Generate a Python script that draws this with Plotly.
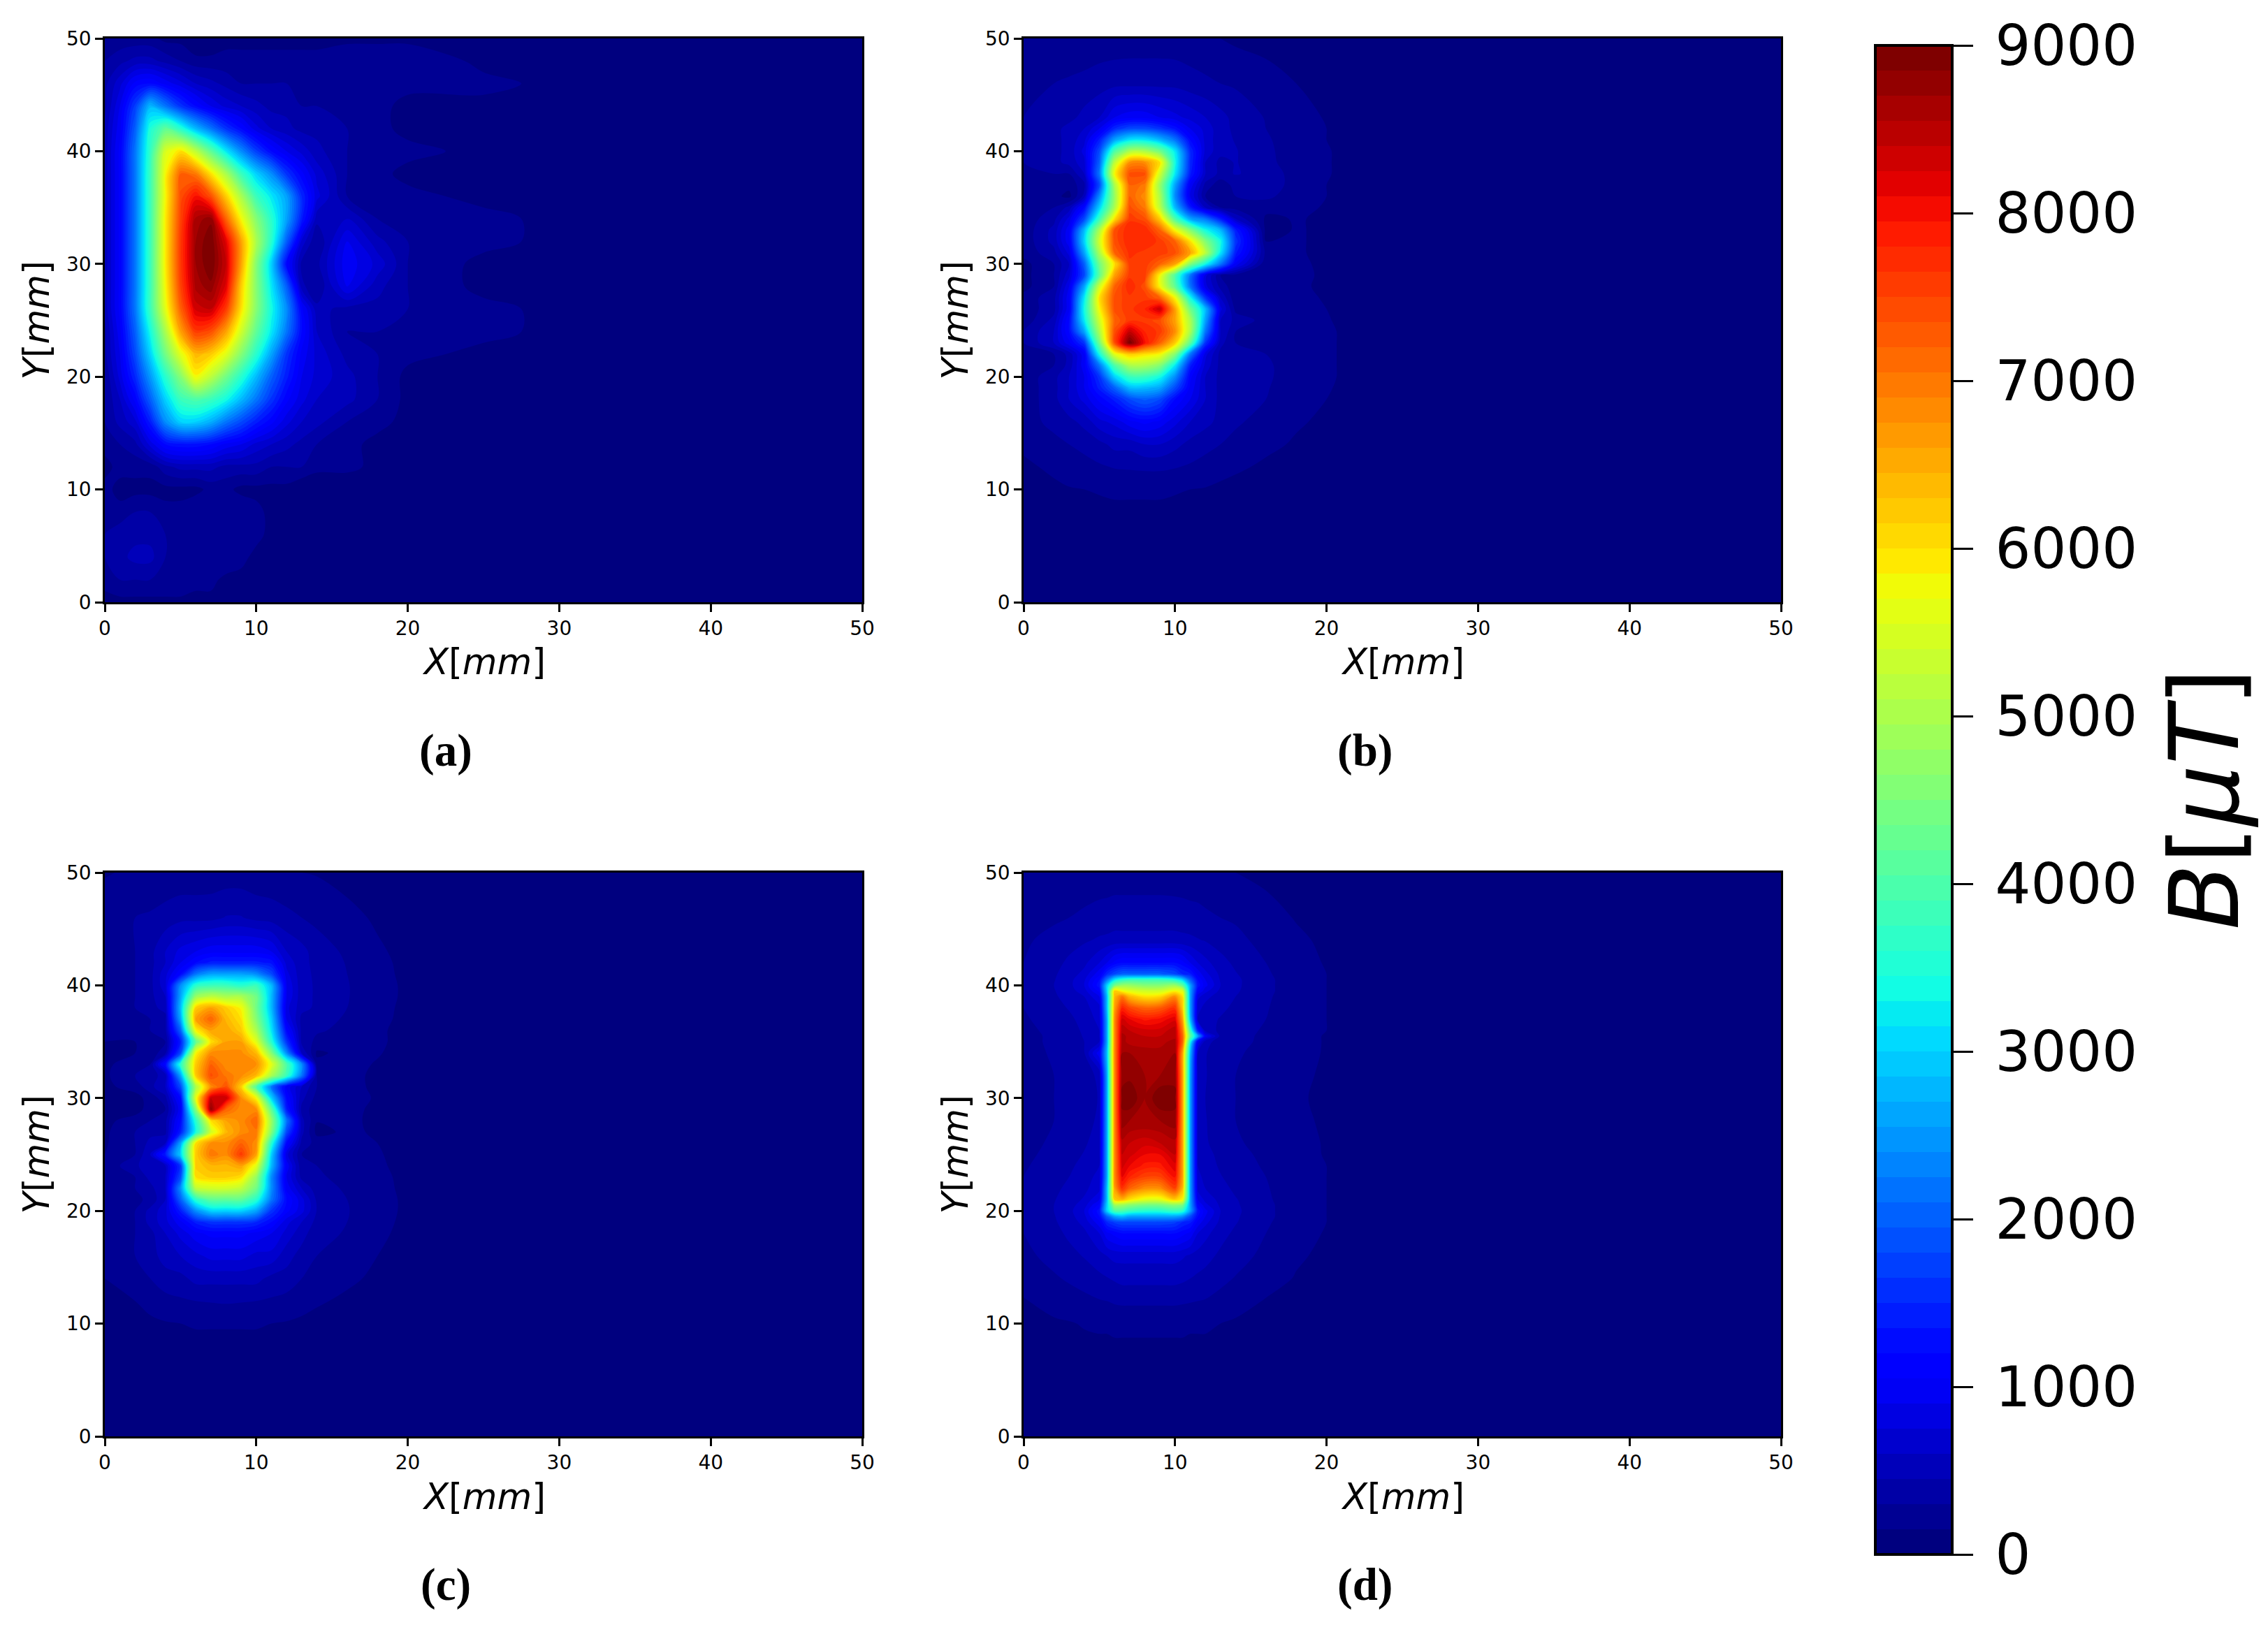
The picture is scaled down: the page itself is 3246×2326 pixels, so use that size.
import numpy as np
import plotly.graph_objects as go

X_A = [0, 1, 2, 3, 4, 5, 6, 7, 8, 9, 10, 11, 12, 13, 14, 16, 18, 20, 25, 30, 50]
Y_A = [50, 48, 46, 44, 42, 40, 38, 36, 34, 32, 30, 28, 26, 24, 22, 20, 18, 16, 14, 12, 10, 8, 6, 4, 2, 0]
Z_A = [
    [2, 2, 2, 2, 1, 1, 0, 0, 1, 1, 1, 1, 1, 1, 1, 1, 1, 1, 1, 1, 0],
    [3, 4, 5, 5, 4, 3, 2, 2, 2, 2, 2, 2, 2, 2, 2, 3, 3, 3, 1, 1, 0],
    [4, 7, 11, 12, 10, 8, 6, 5, 4, 3, 3, 3, 3, 3, 3, 3, 3, 2, 2, 1, 0],
    [4, 9, 17, 28, 22, 16, 12, 9, 7, 6, 5, 4, 4, 3, 3, 3, 2, 1, 1, 1, 0],
    [5, 10, 20, 35, 42, 36, 28, 22, 16, 12, 8, 6, 5, 4, 4, 3, 2, 1, 1, 1, 0],
    [5, 11, 22, 37, 55, 60, 52, 42, 32, 24, 17, 12, 9, 7, 5, 3, 2, 2, 1, 1, 0],
    [5, 11, 22, 38, 58, 72, 70, 60, 50, 38, 30, 24, 16, 11, 7, 3, 2, 1, 1, 1, 0],
    [5, 11, 22, 38, 58, 74, 80, 74, 62, 50, 38, 32, 26, 15, 8, 3, 2, 2, 1, 1, 0],
    [5, 11, 22, 38, 59, 75, 86, 88, 72, 58, 46, 36, 26, 14, 5, 6, 3, 2, 2, 1, 0],
    [5, 11, 22, 38, 59, 76, 87, 90, 82, 66, 50, 36, 20, 7, 3, 9, 5, 3, 2, 1, 0],
    [5, 11, 22, 38, 59, 76, 87, 90, 84, 66, 46, 30, 12, 4, 4, 10, 7, 3, 1, 1, 0],
    [5, 11, 22, 38, 58, 75, 86, 88, 82, 62, 46, 32, 20, 5, 3, 9, 5, 3, 1, 1, 0],
    [5, 11, 22, 38, 56, 72, 83, 84, 76, 60, 46, 34, 24, 11, 5, 4, 4, 3, 2, 1, 0],
    [4, 10, 20, 34, 50, 66, 76, 74, 66, 54, 42, 32, 22, 12, 6, 3, 3, 3, 2, 1, 0],
    [4, 9, 18, 30, 44, 56, 64, 62, 56, 46, 36, 26, 16, 10, 7, 4, 3, 2, 1, 1, 0],
    [3, 8, 15, 25, 36, 46, 58, 52, 44, 36, 28, 20, 14, 9, 7, 5, 3, 1, 1, 1, 0],
    [3, 6, 11, 20, 30, 38, 40, 38, 34, 28, 22, 16, 11, 8, 6, 5, 3, 1, 1, 1, 0],
    [3, 5, 7, 14, 24, 30, 30, 27, 22, 18, 14, 11, 8, 6, 5, 3, 2, 1, 1, 1, 0],
    [2, 3, 4, 8, 12, 13, 13, 12, 10, 9, 7, 6, 5, 4, 3, 2, 1, 1, 1, 0, 0],
    [1, 2, 2, 2, 4, 5, 5, 5, 4, 4, 4, 3, 3, 3, 2, 2, 1, 1, 0, 0, 0],
    [2, 1, 1, 1, 1, 1, 1, 2, 2, 1, 1, 1, 1, 0, 0, 0, 0, 0, 0, 0, 0],
    [2, 2, 3, 3, 2, 2, 3, 3, 3, 3, 2, 1, 1, 0, 0, 0, 0, 0, 0, 0, 0],
    [3, 4, 4, 4, 3, 3, 3, 3, 3, 3, 2, 1, 1, 0, 0, 0, 0, 0, 0, 0, 0],
    [3, 4, 5, 5, 3, 3, 3, 3, 3, 2, 1, 1, 1, 0, 0, 0, 0, 0, 0, 0, 0],
    [2, 3, 3, 3, 3, 3, 2, 2, 1, 1, 1, 1, 0, 0, 0, 0, 0, 0, 0, 0, 0],
    [1, 1, 1, 1, 1, 1, 1, 1, 1, 0, 0, 0, 0, 0, 0, 0, 0, 0, 0, 0, 0],
]

X_B = [0, 2, 3, 4, 5, 6, 7, 8, 9, 10, 11, 12, 13, 14, 16, 18, 20, 22, 50]
Y_B = [50, 46, 43, 42, 41, 40, 39, 38, 37, 36, 35, 34, 33, 32, 31, 30, 29, 28, 27, 26, 25, 24, 23, 22, 21, 20, 19, 18, 16, 14, 12, 10, 5, 0]
Z_B = [
    [1.6, 1.8, 1.9, 2, 2, 2.1, 2.2, 2.2, 2.2, 2.1, 2, 1.8, 1.5, 1.2, 1, 0.8, 0.6, 0.4, 0],
    [2.6, 3, 3.2, 3.4, 3.8, 4, 4, 4, 4, 4, 3.6, 3.3, 3, 2.8, 2.1, 1.5, 1.1, 0.8, 0],
    [3, 3.6, 4, 5, 6, 9, 10, 10, 9, 8, 7, 6, 5, 4, 2.9, 2, 1.4, 1, 0],
    [3, 4, 5, 6, 9, 15, 18, 18, 16, 13, 9, 7, 5, 4.2, 3, 2.1, 1.5, 1, 0],
    [3, 4, 5, 7, 14, 26, 32, 32, 28, 22, 12, 7, 5, 4.4, 3.2, 2.2, 1.5, 1, 0],
    [3, 4, 5, 8, 18, 40, 50, 50, 44, 32, 15, 7, 5, 4.6, 3.3, 2.3, 1.6, 1, 0],
    [3, 4, 5, 7, 20, 52, 68, 68, 60, 34, 15, 6, 4, 4.6, 3.4, 2.3, 1.6, 1, 0],
    [3, 3, 3, 6, 22, 58, 74, 74, 54, 32, 14, 6, 4, 4.6, 4, 2.3, 1.6, 1, 0],
    [2, 2, 2, 4, 18, 50, 72, 70, 48, 26, 10, 4, 2, 3.6, 4.2, 2.2, 1.5, 1, 0],
    [2, 2, 1, 5, 24, 48, 72, 68, 50, 24, 9, 3, 2, 3, 3.4, 2.1, 1.5, 1, 0],
    [2, 3, 5, 12, 30, 50, 74, 70, 52, 28, 14, 6, 3, 2.4, 2, 1.8, 1.4, 0.9, 0],
    [2, 4, 8, 18, 38, 60, 76, 74, 62, 40, 26, 22, 14, 6, 1.2, 1.6, 1.3, 0.9, 0],
    [2, 5, 10, 28, 50, 74, 78, 78, 72, 58, 46, 34, 28, 14, 1, 1.6, 1.3, 0.9, 0],
    [2, 5, 10, 30, 54, 74, 78, 78, 76, 72, 60, 46, 34, 16, 1.5, 1.6, 1.3, 0.9, 0],
    [2, 4, 8, 26, 50, 72, 77, 76, 76, 74, 66, 52, 32, 14, 2.5, 1.6, 1.3, 0.9, 0],
    [1, 3, 6, 20, 44, 60, 76, 76, 72, 66, 46, 34, 22, 10, 1.7, 1.7, 1.3, 0.9, 0],
    [1, 3, 7, 18, 42, 66, 76, 76, 58, 40, 22, 8, 3, 2.5, 1.8, 1.8, 1.3, 0.9, 0],
    [1, 3, 9, 26, 54, 72, 78, 74, 58, 42, 22, 8, 4, 1.8, 1.5, 1.7, 1.3, 0.9, 0],
    [2, 4, 10, 32, 60, 74, 76, 76, 72, 58, 34, 16, 6, 1.8, 1.5, 1.8, 1.4, 1, 0],
    [2, 4, 10, 34, 58, 74, 76, 78, 84, 66, 44, 28, 8, 2.5, 2, 2, 1.5, 1, 0],
    [2, 5, 12, 32, 54, 72, 76, 76, 74, 66, 50, 26, 6, 4, 2.4, 2.2, 1.6, 1, 0],
    [3, 6, 12, 26, 50, 74, 84, 78, 76, 68, 50, 22, 6, 3, 2.5, 2.3, 1.7, 1.1, 0],
    [3, 6, 10, 16, 44, 74, 90, 80, 72, 62, 42, 16, 5, 3, 2.8, 2.4, 1.7, 1.1, 0],
    [2, 3, 5, 10, 34, 56, 62, 60, 58, 46, 22, 8, 4, 3.4, 3, 2.4, 1.7, 1.1, 0],
    [2, 3, 5, 10, 22, 40, 50, 50, 46, 32, 14, 7, 4, 3.6, 3.2, 2.4, 1.7, 1.1, 0],
    [2, 4, 6, 9, 16, 30, 38, 38, 34, 24, 11, 6, 4, 4, 3.2, 2.4, 1.7, 1.1, 0],
    [2, 4, 6, 9, 14, 20, 28, 28, 26, 18, 10, 6, 4, 3.8, 3.1, 2.3, 1.6, 1.1, 0],
    [2, 4, 6, 8, 11, 14, 18, 20, 18, 12, 9, 6, 4, 3.6, 3, 2.2, 1.5, 1, 0],
    [2.4, 3.4, 4, 5, 7, 8, 10, 11, 10, 8, 6, 5, 4, 3.2, 2.5, 1.7, 1.2, 0.8, 0],
    [1.8, 2.6, 3, 3.4, 4, 5, 5, 6, 6, 5, 4, 3.4, 3, 2.6, 1.9, 1.3, 0.9, 0.6, 0],
    [1.2, 1.8, 2.2, 2.5, 2.8, 3.1, 3.2, 3.3, 3.3, 3.1, 2.8, 2.5, 2.2, 1.8, 1.2, 0.9, 0.6, 0.4, 0],
    [0.9, 1.2, 1.4, 1.5, 1.6, 1.7, 1.7, 1.7, 1.7, 1.6, 1.5, 1.4, 1.1, 0.9, 0.7, 0.5, 0.3, 0.2, 0],
    [0.3, 0.4, 0.5, 0.5, 0.6, 0.6, 0.6, 0.6, 0.6, 0.6, 0.6, 0.5, 0.5, 0.4, 0.3, 0.2, 0.1, 0.1, 0],
    [0.1, 0.2, 0.2, 0.2, 0.2, 0.2, 0.2, 0.2, 0.2, 0.2, 0.2, 0.2, 0.2, 0.2, 0.1, 0.1, 0, 0, 0],
]

X_C = [0, 2, 3, 4, 5, 6, 7, 8, 9, 10, 11, 12, 13, 14, 16, 18, 20, 22, 50]
Y_C = [50, 46, 43, 42, 41, 40, 39, 38, 37, 36, 35, 34, 33, 32, 31, 30, 29, 28, 27, 26, 25, 24, 23, 22, 21, 20, 19, 18, 16, 14, 12, 10, 5, 0]
Z_C = [
    [1.4, 1.7, 1.8, 1.9, 2, 2, 2.1, 2.1, 2.1, 2, 1.9, 1.7, 1.5, 1.4, 1, 0.7, 0.5, 0.3, 0],
    [2.2, 3, 3.2, 3.6, 4, 4, 4, 4.6, 4.6, 4, 3.8, 3.4, 3, 2.6, 1.9, 1.3, 0.9, 0.7, 0],
    [2.4, 3, 4, 6, 8, 9, 10, 10, 10, 10, 9, 6, 5, 3.8, 2.7, 1.7, 1.1, 0.8, 0],
    [2.4, 3, 4, 6, 9, 12, 14, 14, 14, 14, 13, 7, 5, 4, 2.9, 1.8, 1.2, 0.8, 0],
    [2.4, 3, 4, 7, 12, 22, 26, 26, 26, 24, 18, 8, 5, 4.2, 3, 1.9, 1.2, 0.8, 0],
    [2.4, 3, 4, 7, 24, 36, 38, 38, 36, 38, 28, 9, 5, 4.3, 3.1, 1.9, 1.3, 0.8, 0],
    [2.2, 3, 4, 6, 26, 48, 52, 50, 50, 44, 28, 9, 5, 4.3, 3.1, 1.9, 1.3, 0.8, 0],
    [2, 3, 4, 5, 28, 62, 66, 62, 58, 44, 28, 8, 5, 4.2, 3, 1.9, 1.2, 0.8, 0],
    [1.8, 2.5, 3, 4, 26, 66, 72, 64, 60, 46, 30, 9, 4, 3.6, 2.8, 1.8, 1.2, 0.8, 0],
    [1.7, 2.2, 3, 4, 20, 58, 66, 66, 62, 50, 32, 12, 4, 3.2, 2.6, 1.7, 1.1, 0.8, 0],
    [1.5, 1.5, 2, 3, 14, 42, 60, 66, 66, 56, 36, 16, 4, 2.6, 2.3, 1.7, 1.1, 0.8, 0],
    [1.4, 1.5, 2, 4, 18, 58, 68, 68, 68, 64, 46, 24, 6, 1.2, 2, 1.6, 1, 0.7, 0],
    [1.3, 2, 3, 12, 36, 62, 72, 68, 68, 68, 56, 40, 24, 2, 1.9, 1.4, 1, 0.7, 0],
    [1.2, 3, 4, 5, 26, 62, 74, 70, 68, 64, 50, 38, 22, 2.8, 1.8, 1.3, 1, 0.7, 0],
    [1.2, 2, 4, 6, 18, 50, 68, 74, 62, 40, 22, 10, 6, 3, 2, 1.2, 1, 0.7, 0],
    [0.6, 1, 2, 4, 12, 56, 84, 84, 68, 58, 30, 12, 5, 2.4, 2.6, 1.2, 0.9, 0.7, 0],
    [0.6, 1, 2, 3, 10, 46, 88, 72, 68, 68, 42, 14, 4, 2, 1.9, 1.2, 0.9, 0.7, 0],
    [1.2, 2, 3, 4, 12, 36, 60, 66, 68, 72, 48, 22, 5, 1.6, 1.8, 1.2, 1, 0.7, 0],
    [1.2, 3, 4, 4, 14, 34, 54, 64, 68, 70, 46, 18, 5, 1, 1.8, 1.3, 1, 0.7, 0],
    [1.3, 3, 5, 6, 26, 60, 68, 68, 72, 68, 36, 12, 4, 2.4, 2, 1.5, 1, 0.7, 0],
    [1.5, 3, 6, 14, 30, 62, 70, 68, 76, 66, 30, 8, 3, 3, 2.2, 1.6, 1.1, 0.8, 0],
    [2, 4, 6, 6, 16, 62, 64, 64, 66, 56, 28, 10, 3.4, 3, 2.4, 1.7, 1.1, 0.8, 0],
    [1.7, 3, 5, 6, 18, 60, 62, 62, 60, 48, 24, 9, 4, 3.2, 2.6, 1.8, 1.2, 0.8, 0],
    [1.8, 3, 4, 6, 24, 52, 54, 54, 52, 44, 24, 10, 6, 3.6, 2.8, 1.9, 1.2, 0.8, 0],
    [2, 2.6, 3.4, 6, 20, 36, 42, 42, 42, 36, 22, 12, 8, 4.2, 3, 1.9, 1.3, 0.8, 0],
    [2.2, 3, 5, 7, 14, 24, 30, 30, 30, 26, 16, 11, 8, 4.4, 3.1, 1.9, 1.3, 0.8, 0],
    [2.2, 3, 5, 7, 10, 14, 16, 16, 16, 15, 12, 8, 6, 4, 3, 1.9, 1.2, 0.8, 0],
    [2.2, 3, 4, 6, 8, 10, 11, 11, 11, 10, 9, 7, 5, 3.7, 2.8, 1.8, 1.1, 0.8, 0],
    [2, 3, 4, 5, 6, 7, 8, 8, 8, 7, 7, 5, 4, 3, 2.3, 1.5, 1, 0.7, 0],
    [1.5, 2.2, 3, 4, 4, 5, 5, 5, 5, 5, 4, 4, 3, 2.4, 1.8, 1.2, 0.8, 0.5, 0],
    [1.1, 1.5, 2, 2.4, 2.8, 3, 3.1, 3.2, 3.1, 3, 2.8, 2.4, 2.1, 1.7, 1.2, 0.8, 0.5, 0.3, 0],
    [0.7, 1, 1.2, 1.4, 1.5, 1.6, 1.6, 1.6, 1.6, 1.6, 1.5, 1.4, 1.2, 1, 0.7, 0.5, 0.3, 0.2, 0],
    [0.3, 0.4, 0.5, 0.5, 0.6, 0.6, 0.6, 0.6, 0.6, 0.6, 0.6, 0.5, 0.5, 0.4, 0.3, 0.2, 0.1, 0.1, 0],
    [0.1, 0.2, 0.2, 0.2, 0.2, 0.2, 0.2, 0.2, 0.2, 0.2, 0.2, 0.2, 0.2, 0.2, 0.1, 0.1, 0, 0, 0],
]

X_D = [0, 2, 3, 4, 5, 5.5, 6, 6.5, 7, 8, 9, 10, 10.5, 11, 11.5, 12, 13, 14, 16, 18, 20, 22, 50]
Y_D = [50, 46, 44, 42, 41, 40.5, 40, 39.5, 39, 38, 37, 36, 35.5, 35, 34, 32, 30, 28, 26, 25, 24, 23, 22, 21, 20.5, 20, 19.5, 19, 18, 16, 14, 12, 10, 5, 0]
Z_D = [
    [1.6, 1.8, 1.9, 2, 2.1, 2.1, 2.2, 2.2, 2.2, 2.2, 2.2, 2.1, 2.1, 2, 2, 1.9, 1.7, 1.5, 1.1, 0.8, 0.6, 0.4, 0],
    [2.4, 2.8, 3, 3.3, 3.6, 3.7, 3.8, 3.8, 3.8, 3.8, 3.8, 3.8, 3.7, 3.6, 3.5, 3.3, 3, 2.8, 2.1, 1.4, 1, 0.8, 0],
    [2.8, 3.4, 3.9, 4.3, 4.7, 4.8, 5, 5, 5, 5, 5, 5, 4.9, 4.8, 4.6, 4.4, 3.9, 3.4, 2.5, 1.8, 1.2, 0.9, 0],
    [3, 4, 4.8, 5.6, 7.5, 9, 11, 12, 12, 12, 12, 12, 11, 9, 7.5, 6.5, 5, 4.2, 3, 2, 1.4, 1, 0],
    [3.1, 4.3, 5.2, 6.5, 10, 15, 18, 20, 20, 20, 20, 18, 15, 14, 10, 8, 5.6, 4.6, 3.2, 2.2, 1.5, 1, 0],
    [3.2, 4.4, 5.5, 7.2, 12, 22, 32, 36, 38, 38, 38, 35, 30, 20, 12, 9, 5.8, 4.8, 3.3, 2.3, 1.5, 1, 0],
    [3.2, 4.5, 5.5, 7.5, 13, 30, 44, 48, 48, 46, 46, 48, 42, 26, 13, 9.5, 6, 4.8, 3.3, 2.3, 1.5, 1, 0],
    [3.2, 4.4, 5.3, 6.8, 11, 30, 62, 58, 56, 54, 54, 58, 56, 26, 11, 8, 5.6, 4.7, 3.3, 2.3, 1.5, 1, 0],
    [3.1, 4.3, 5, 6, 9, 28, 64, 70, 64, 60, 61, 68, 60, 26, 8, 6.5, 5.2, 4.5, 3.2, 2.3, 1.5, 1, 0],
    [3, 4, 4.6, 5.4, 7, 28, 66, 78, 75, 72, 73, 77, 62, 26, 6.5, 5.5, 4.8, 4.2, 3.1, 2.2, 1.5, 1, 0],
    [2.8, 3.7, 4.2, 5, 6.5, 26, 68, 83, 81, 79, 80, 82, 66, 28, 6, 5, 4.4, 3.9, 3, 2.1, 1.5, 1, 0],
    [2.6, 3.4, 4, 4.7, 6, 26, 68, 85, 84, 83, 83, 85, 70, 38, 14, 5.5, 4.1, 3.6, 2.8, 2.1, 1.5, 1, 0],
    [2.5, 3.3, 3.9, 4.6, 6, 26, 68, 86, 85, 84, 84, 85, 72, 42, 26, 10, 4, 3.5, 2.7, 2, 1.4, 1, 0],
    [2.5, 3.3, 3.8, 4.5, 6, 26, 68, 86, 85, 85, 85, 86, 72, 34, 10, 5, 3.9, 3.4, 2.7, 2, 1.4, 1, 0],
    [2.4, 3.2, 3.6, 4.4, 10, 28, 68, 87, 87, 86, 86, 87, 66, 28, 6, 4.6, 3.7, 3.2, 2.5, 1.9, 1.4, 1, 0],
    [2.1, 3, 3.4, 3.9, 4.8, 26, 68, 88, 88, 87, 87, 88, 66, 26, 5.5, 4.6, 3.6, 3, 2.3, 1.8, 1.3, 0.9, 0],
    [2, 3, 3.3, 3.8, 4.6, 26, 68, 89, 90, 87, 90, 89, 66, 26, 5.5, 4.5, 3.5, 3, 2.3, 1.7, 1.2, 0.9, 0],
    [2.1, 3, 3.4, 3.9, 4.8, 26, 68, 88, 87, 87, 87, 88, 66, 26, 5.5, 4.6, 3.6, 3, 2.3, 1.8, 1.3, 0.9, 0],
    [2.4, 3.3, 3.7, 4.3, 5.2, 26, 68, 85, 84, 83, 84, 85, 66, 26, 5.6, 4.7, 3.8, 3.2, 2.5, 1.9, 1.4, 1, 0],
    [2.6, 3.5, 3.9, 4.6, 5.5, 26, 68, 84, 83, 81, 81, 84, 66, 26, 5.8, 5, 4.1, 3.4, 2.7, 2, 1.4, 1, 0],
    [2.8, 3.8, 4.2, 5, 6, 26, 68, 83, 81, 79, 79, 82, 66, 26, 6, 5.2, 4.3, 3.7, 2.8, 2.1, 1.5, 1, 0],
    [3, 4, 4.5, 5.3, 6.5, 26, 68, 81, 78, 75, 75, 80, 66, 26, 6.5, 5.5, 4.6, 3.9, 3, 2.2, 1.5, 1, 0],
    [3, 4.2, 4.8, 5.6, 7, 28, 66, 77, 72, 68, 68, 75, 64, 26, 7, 6, 5, 4.2, 3.1, 2.3, 1.5, 1, 0],
    [3.1, 4.4, 5.2, 6.2, 9, 28, 62, 64, 60, 56, 56, 62, 58, 26, 9, 7, 5.5, 4.6, 3.2, 2.3, 1.5, 1, 0],
    [3.2, 4.5, 5.4, 6.8, 11, 30, 48, 48, 46, 44, 44, 46, 44, 26, 11, 8, 5.7, 4.7, 3.3, 2.3, 1.5, 1, 0],
    [3.2, 4.5, 5.5, 7.5, 13, 30, 40, 40, 38, 36, 36, 38, 36, 26, 13, 9.5, 6, 4.8, 3.3, 2.3, 1.5, 1, 0],
    [3.1, 4.4, 5.4, 7, 12, 20, 26, 28, 26, 26, 26, 26, 24, 18, 12, 9, 5.8, 4.7, 3.3, 2.3, 1.5, 1, 0],
    [3.1, 4.3, 5.2, 6.5, 10, 15, 17, 18, 18, 18, 18, 17, 15, 14, 10, 8, 5.6, 4.6, 3.2, 2.2, 1.5, 1, 0],
    [3, 4, 4.8, 5.6, 7.5, 10, 11, 12, 12, 12, 12, 12, 11, 10, 7.5, 6.5, 5, 4.2, 3, 2, 1.4, 1, 0],
    [2.6, 3.5, 4, 4.6, 5.5, 6, 6.5, 6.5, 6.5, 6.5, 6.5, 6.5, 6.2, 5.7, 5.4, 5, 4.2, 3.6, 2.6, 1.7, 1.2, 0.8, 0],
    [2, 2.8, 3.2, 3.6, 4.1, 4.4, 4.7, 5, 5, 5, 5, 5, 4.8, 4.5, 4.2, 4, 3.4, 2.9, 2.1, 1.4, 1, 0.7, 0],
    [1.4, 2, 2.3, 2.6, 2.9, 3, 3.2, 3.3, 3.3, 3.3, 3.3, 3.3, 3.2, 3.1, 3, 2.9, 2.5, 2.1, 1.4, 1, 0.7, 0.5, 0],
    [1, 1.3, 1.4, 1.6, 1.7, 1.7, 1.8, 1.8, 1.8, 1.8, 1.8, 1.8, 1.8, 1.7, 1.7, 1.7, 1.5, 1.3, 1, 0.7, 0.5, 0.3, 0],
    [0.4, 0.5, 0.5, 0.6, 0.6, 0.6, 0.6, 0.6, 0.6, 0.6, 0.6, 0.6, 0.6, 0.6, 0.6, 0.6, 0.5, 0.5, 0.4, 0.3, 0.2, 0.1, 0],
    [0.2, 0.2, 0.2, 0.2, 0.2, 0.2, 0.2, 0.2, 0.2, 0.2, 0.2, 0.2, 0.2, 0.2, 0.2, 0.2, 0.2, 0.2, 0.1, 0.1, 0.1, 0, 0],
]

PANEL_LABELS = ["(a)", "(b)", "(c)", "(d)"]
AXIS_TICKS = [0, 10, 20, 30, 40, 50]
COLORBAR_TICKS = [0, 1000, 2000, 3000, 4000, 5000, 6000, 7000, 8000, 9000]
COLORBAR_LABELS = ["\u2009" + str(t) for t in COLORBAR_TICKS]

# matplotlib jet
JET = [
    [0.0, "rgb(0,0,127)"], [0.11, "rgb(0,0,255)"], [0.125, "rgb(0,0,255)"],
    [0.34, "rgb(0,219,255)"], [0.35, "rgb(0,229,247)"], [0.375, "rgb(20,255,226)"],
    [0.64, "rgb(238,255,9)"], [0.66, "rgb(255,234,0)"], [0.89, "rgb(255,19,0)"],
    [0.91, "rgb(232,0,0)"], [1.0, "rgb(127,0,0)"],
]

W, H = 3246, 2326
# page body has an 8px margin, so everything sits 8px up and left of the target spot
X_SPANS = [(142, 1226), (1457, 2541)]
Y_SPANS = [(47, 854), (1241, 2048)]
LABEL_X = [630, 1946]

panels = [
    (X_A, Y_A, Z_A, 0, 0),
    (X_B, Y_B, Z_B, 1, 0),
    (X_C, Y_C, Z_C, 0, 1),
    (X_D, Y_D, Z_D, 1, 1),
]

fig = go.Figure()
annotations = []
axis_style = dict(
    range=[0, 50], tickvals=AXIS_TICKS, ticks="outside", ticklen=11, tickwidth=2.5,
    tickcolor="black", showline=True, linecolor="black", linewidth=2.5, mirror=True,
    showgrid=False, zeroline=False, tickfont=dict(size=28, color="black"),
)
note_style = dict(xref="paper", yref="paper", showarrow=False, xanchor="center", yanchor="middle")

for i, (xs, ys, zs, col, row) in enumerate(panels):
    name = "" if i == 0 else str(i + 1)
    fig.add_trace(go.Contour(
        x=xs, y=ys[::-1], z=(np.array(zs) * 100)[::-1],
        xaxis="x" + name, yaxis="y" + name,
        colorscale=JET, zmin=0, zmax=9000,
        contours=dict(start=150, end=8850, size=150, coloring="fill", showlines=False),
        line=dict(width=0),
        showscale=i == 0,
        colorbar=dict(
            x=2676 / W, xanchor="left", xpad=0, thickness=110,
            y=1 - 57 / H, yanchor="top", ypad=0, len=(2217 - 57) / H,
            outlinewidth=4, outlinecolor="black",
            ticks="outside", ticklen=28, tickwidth=3, tickcolor="black",
            tickvals=COLORBAR_TICKS, ticktext=COLORBAR_LABELS,
            tickfont=dict(size=80, color="black"),
        ),
    ))
    x0, x1 = X_SPANS[col]
    y0, y1 = Y_SPANS[row]
    fig.update_layout({
        "xaxis" + name: dict(axis_style, domain=[x0 / W, x1 / W], anchor="y" + name),
        "yaxis" + name: dict(axis_style, domain=[1 - y1 / H, 1 - y0 / H], anchor="x" + name),
    })
    mid_x = (x0 + x1) / 2
    mid_y = (y0 + y1) / 2
    annotations.append(dict(
        note_style, text="<i>X</i>[<i>mm</i>]", x=mid_x / W, y=1 - (y1 + 86) / H,
        font=dict(size=51, color="black"),
    ))
    annotations.append(dict(
        note_style, text="<i>Y</i>[<i>mm</i>]", x=(x0 - 98) / W, y=1 - mid_y / H, textangle=-90,
        font=dict(size=51, color="black"),
    ))
    annotations.append(dict(
        note_style, text="<b>" + PANEL_LABELS[i] + "</b>", x=LABEL_X[col] / W, y=1 - (y1 + 212) / H,
        font=dict(size=65, color="black", family="Liberation Serif"),
    ))

annotations.append(dict(
    note_style, text="<i>B</i>[<i>μT</i>]", x=3147 / W, y=1 - 1136 / H, textangle=-90,
    font=dict(size=138, color="black"),
))

fig.update_layout(
    width=W, height=H, margin=dict(l=0, r=0, t=0, b=0, autoexpand=False),
    paper_bgcolor="white", plot_bgcolor="white",
    font=dict(family="DejaVu Sans"), showlegend=False,
    annotations=annotations,
)

fig.write_html("out.html")
